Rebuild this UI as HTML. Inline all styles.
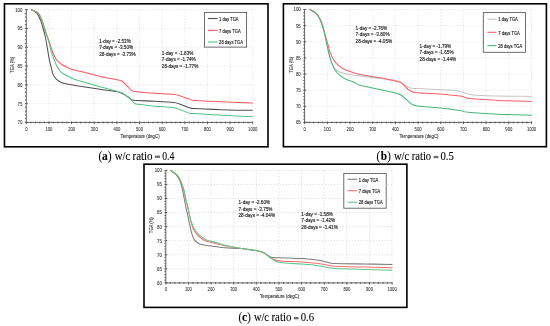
<!DOCTYPE html>
<html><head><meta charset="utf-8"><style>
html,body{margin:0;padding:0;background:#fff;}
body{width:550px;height:326px;overflow:hidden;font-family:"Liberation Sans", sans-serif;}
svg{display:block;will-change:transform;}
</style></head><body>
<svg width="550" height="326" viewBox="0 0 550 326" font-family='"Liberation Sans", sans-serif'>
<rect width="550" height="326" fill="#fff"/>
<path d="M26.30,103.60 H252.70 M26.30,84.80 H252.70 M26.30,66.00 H252.70 M26.30,47.20 H252.70 M26.30,28.40 H252.70 M26.30,9.60 H252.70 M48.94,9.60 V122.40 M71.58,9.60 V122.40 M94.22,9.60 V122.40 M116.86,9.60 V122.40 M139.50,9.60 V122.40 M162.14,9.60 V122.40 M184.78,9.60 V122.40 M207.42,9.60 V122.40 M230.06,9.60 V122.40 M252.70,9.60 V122.40" stroke="#d9d9d9" stroke-width="0.75" stroke-dasharray="1.1,1.9" fill="none"/>
<path d="M26.30,9.60 V122.40 M26.30,122.40 H252.70 M24.90,122.40 H27.90 M24.90,118.64 H26.30 M24.90,114.88 H26.30 M24.90,111.12 H26.30 M24.90,107.36 H26.30 M24.90,103.60 H27.90 M24.90,99.84 H26.30 M24.90,96.08 H26.30 M24.90,92.32 H26.30 M24.90,88.56 H26.30 M24.90,84.80 H27.90 M24.90,81.04 H26.30 M24.90,77.28 H26.30 M24.90,73.52 H26.30 M24.90,69.76 H26.30 M24.90,66.00 H27.90 M24.90,62.24 H26.30 M24.90,58.48 H26.30 M24.90,54.72 H26.30 M24.90,50.96 H26.30 M24.90,47.20 H27.90 M24.90,43.44 H26.30 M24.90,39.68 H26.30 M24.90,35.92 H26.30 M24.90,32.16 H26.30 M24.90,28.40 H27.90 M24.90,24.64 H26.30 M24.90,20.88 H26.30 M24.90,17.12 H26.30 M24.90,13.36 H26.30 M24.90,9.60 H27.90 M26.30,121.50 V124.20 M30.83,121.70 V123.40 M35.36,121.70 V123.40 M39.88,121.70 V123.40 M44.41,121.70 V123.40 M48.94,121.50 V124.20 M53.47,121.70 V123.40 M58.00,121.70 V123.40 M62.52,121.70 V123.40 M67.05,121.70 V123.40 M71.58,121.50 V124.20 M76.11,121.70 V123.40 M80.64,121.70 V123.40 M85.16,121.70 V123.40 M89.69,121.70 V123.40 M94.22,121.50 V124.20 M98.75,121.70 V123.40 M103.28,121.70 V123.40 M107.80,121.70 V123.40 M112.33,121.70 V123.40 M116.86,121.50 V124.20 M121.39,121.70 V123.40 M125.92,121.70 V123.40 M130.44,121.70 V123.40 M134.97,121.70 V123.40 M139.50,121.50 V124.20 M144.03,121.70 V123.40 M148.56,121.70 V123.40 M153.08,121.70 V123.40 M157.61,121.70 V123.40 M162.14,121.50 V124.20 M166.67,121.70 V123.40 M171.20,121.70 V123.40 M175.72,121.70 V123.40 M180.25,121.70 V123.40 M184.78,121.50 V124.20 M189.31,121.70 V123.40 M193.84,121.70 V123.40 M198.36,121.70 V123.40 M202.89,121.70 V123.40 M207.42,121.50 V124.20 M211.95,121.70 V123.40 M216.48,121.70 V123.40 M221.00,121.70 V123.40 M225.53,121.70 V123.40 M230.06,121.50 V124.20 M234.59,121.70 V123.40 M239.12,121.70 V123.40 M243.64,121.70 V123.40 M248.17,121.70 V123.40 M252.70,121.50 V124.20" stroke="#4a4a4a" stroke-width="0.85" fill="none"/>
<text transform="translate(22.50,124.30) scale(0.850,1)" font-size="5.20" text-anchor="end" fill="#333" stroke="#333" stroke-width="0.08">70</text>
<text transform="translate(22.50,105.50) scale(0.850,1)" font-size="5.20" text-anchor="end" fill="#333" stroke="#333" stroke-width="0.08">75</text>
<text transform="translate(22.50,86.70) scale(0.850,1)" font-size="5.20" text-anchor="end" fill="#333" stroke="#333" stroke-width="0.08">80</text>
<text transform="translate(22.50,67.90) scale(0.850,1)" font-size="5.20" text-anchor="end" fill="#333" stroke="#333" stroke-width="0.08">85</text>
<text transform="translate(22.50,49.10) scale(0.850,1)" font-size="5.20" text-anchor="end" fill="#333" stroke="#333" stroke-width="0.08">90</text>
<text transform="translate(22.50,30.30) scale(0.850,1)" font-size="5.20" text-anchor="end" fill="#333" stroke="#333" stroke-width="0.08">95</text>
<text transform="translate(22.50,11.50) scale(0.850,1)" font-size="5.20" text-anchor="end" fill="#333" stroke="#333" stroke-width="0.08">100</text>
<text transform="translate(26.30,130.70) scale(0.800,1)" font-size="5.20" text-anchor="middle" fill="#333" stroke="#333" stroke-width="0.08">0</text>
<text transform="translate(48.94,130.70) scale(0.800,1)" font-size="5.20" text-anchor="middle" fill="#333" stroke="#333" stroke-width="0.08">100</text>
<text transform="translate(71.58,130.70) scale(0.800,1)" font-size="5.20" text-anchor="middle" fill="#333" stroke="#333" stroke-width="0.08">200</text>
<text transform="translate(94.22,130.70) scale(0.800,1)" font-size="5.20" text-anchor="middle" fill="#333" stroke="#333" stroke-width="0.08">300</text>
<text transform="translate(116.86,130.70) scale(0.800,1)" font-size="5.20" text-anchor="middle" fill="#333" stroke="#333" stroke-width="0.08">400</text>
<text transform="translate(139.50,130.70) scale(0.800,1)" font-size="5.20" text-anchor="middle" fill="#333" stroke="#333" stroke-width="0.08">500</text>
<text transform="translate(162.14,130.70) scale(0.800,1)" font-size="5.20" text-anchor="middle" fill="#333" stroke="#333" stroke-width="0.08">600</text>
<text transform="translate(184.78,130.70) scale(0.800,1)" font-size="5.20" text-anchor="middle" fill="#333" stroke="#333" stroke-width="0.08">700</text>
<text transform="translate(207.42,130.70) scale(0.800,1)" font-size="5.20" text-anchor="middle" fill="#333" stroke="#333" stroke-width="0.08">800</text>
<text transform="translate(230.06,130.70) scale(0.800,1)" font-size="5.20" text-anchor="middle" fill="#333" stroke="#333" stroke-width="0.08">900</text>
<text transform="translate(252.70,130.70) scale(0.800,1)" font-size="5.20" text-anchor="middle" fill="#333" stroke="#333" stroke-width="0.08">1000</text>
<text transform="translate(13.85,64.80) rotate(-90) scale(0.800,1)" font-size="5.2" text-anchor="middle" fill="#333" stroke="#333" stroke-width="0.08">TGA (%)</text>
<text transform="translate(140.05,137.60) scale(0.845,1)" font-size="5.20" text-anchor="middle" fill="#333" stroke="#333" stroke-width="0.10">Temperature (degC)</text>
<path d="M31.50,9.80 C32.42,10.38 35.47,11.50 37.00,13.30 C38.53,15.10 39.70,18.15 40.70,20.60 C41.70,23.05 42.30,25.60 43.00,28.00 C43.70,30.40 44.35,32.67 44.90,35.00 C45.45,37.33 45.78,39.17 46.30,42.00 C46.82,44.83 47.48,49.00 48.00,52.00 C48.52,55.00 48.85,57.38 49.40,60.00 C49.95,62.62 50.67,65.27 51.30,67.70 C51.93,70.13 52.37,72.68 53.20,74.60 C54.03,76.52 55.02,77.93 56.30,79.20 C57.58,80.47 59.45,81.47 60.90,82.20 C62.35,82.93 63.48,83.20 65.00,83.60 C66.52,84.00 66.67,84.03 70.00,84.60 C73.33,85.17 80.00,86.22 85.00,87.00 C90.00,87.78 94.73,88.53 100.00,89.30 C105.27,90.07 112.92,90.90 116.60,91.60 C120.28,92.30 120.70,92.95 122.10,93.50 C123.50,94.05 123.90,94.23 125.00,94.90 C126.10,95.57 127.47,96.63 128.70,97.50 C129.93,98.37 130.72,99.58 132.40,100.10 C134.08,100.62 135.03,100.40 138.80,100.60 C142.57,100.80 149.23,100.98 155.00,101.30 C160.77,101.62 169.32,102.05 173.40,102.50 C177.48,102.95 176.63,103.07 179.50,104.00 C182.37,104.93 188.02,107.33 190.60,108.10 C193.18,108.87 188.82,108.28 195.00,108.60 C201.18,108.92 218.15,109.73 227.70,110.00 C237.25,110.27 248.20,110.17 252.30,110.20" stroke="#505050" stroke-width="1.05" fill="none" stroke-linejoin="round" stroke-linecap="round"/>
<path d="M31.50,9.80 C32.65,10.38 36.63,11.50 38.40,13.30 C40.17,15.10 41.10,18.15 42.10,20.60 C43.10,23.05 43.63,25.60 44.40,28.00 C45.17,30.40 45.88,32.67 46.70,35.00 C47.52,37.33 48.32,39.17 49.30,42.00 C50.28,44.83 51.52,49.20 52.60,52.00 C53.68,54.80 54.98,57.33 55.80,58.80 C56.62,60.27 56.53,59.90 57.50,60.80 C58.47,61.70 60.00,63.10 61.60,64.20 C63.20,65.30 64.87,66.40 67.10,67.40 C69.33,68.40 72.02,69.33 75.00,70.20 C77.98,71.07 80.83,71.57 85.00,72.60 C89.17,73.63 94.43,75.18 100.00,76.40 C105.57,77.62 114.72,79.08 118.40,79.90 C122.08,80.72 120.95,80.58 122.10,81.30 C123.25,82.02 124.20,83.15 125.30,84.20 C126.40,85.25 127.52,86.47 128.70,87.60 C129.88,88.73 130.72,90.27 132.40,91.00 C134.08,91.73 135.03,91.62 138.80,92.00 C142.57,92.38 149.23,92.93 155.00,93.30 C160.77,93.67 169.32,93.78 173.40,94.20 C177.48,94.62 176.83,94.98 179.50,95.80 C182.17,96.62 186.82,98.32 189.40,99.10 C191.98,99.88 188.62,100.02 195.00,100.50 C201.38,100.98 218.15,101.60 227.70,102.00 C237.25,102.40 248.20,102.75 252.30,102.90" stroke="#ff5a5f" stroke-width="1.05" fill="none" stroke-linejoin="round" stroke-linecap="round"/>
<path d="M31.50,9.80 C32.65,10.38 36.63,11.50 38.40,13.30 C40.17,15.10 41.10,18.15 42.10,20.60 C43.10,23.05 43.63,25.60 44.40,28.00 C45.17,30.40 45.95,32.67 46.70,35.00 C47.45,37.33 48.12,39.17 48.90,42.00 C49.68,44.83 50.75,49.67 51.40,52.00 C52.05,54.33 52.32,54.67 52.80,56.00 C53.28,57.33 53.60,58.25 54.30,60.00 C55.00,61.75 55.78,64.40 57.00,66.50 C58.22,68.60 59.62,70.92 61.60,72.60 C63.58,74.28 66.67,75.47 68.90,76.60 C71.13,77.73 72.52,78.48 75.00,79.40 C77.48,80.32 79.63,80.87 83.80,82.10 C87.97,83.33 94.53,85.28 100.00,86.80 C105.47,88.32 112.92,90.17 116.60,91.20 C120.28,92.23 120.42,92.17 122.10,93.00 C123.78,93.83 125.30,95.27 126.70,96.20 C128.10,97.13 129.10,97.35 130.50,98.60 C131.90,99.85 132.95,102.67 135.10,103.70 C137.25,104.73 140.08,104.38 143.40,104.80 C146.72,105.22 150.00,105.75 155.00,106.20 C160.00,106.65 169.32,106.95 173.40,107.50 C177.48,108.05 176.83,108.55 179.50,109.50 C182.17,110.45 186.82,112.52 189.40,113.20 C191.98,113.88 188.62,113.20 195.00,113.60 C201.38,114.00 218.15,115.08 227.70,115.60 C237.25,116.12 248.20,116.52 252.30,116.70" stroke="#56c287" stroke-width="1.05" fill="none" stroke-linejoin="round" stroke-linecap="round"/>
<rect x="204.50" y="12.40" width="42.10" height="34.70" fill="#fff" stroke="#555" stroke-width="0.85"/>
<path d="M208.00,18.50 H217.60" stroke="#505050" stroke-width="1.1"/>
<text transform="translate(219.10,20.70) scale(0.790,1)" font-size="5.20" text-anchor="start" fill="#1a1a1a" stroke="#1a1a1a" stroke-width="0.14">1 day TGA</text>
<path d="M208.00,30.30 H217.60" stroke="#ff5a5f" stroke-width="1.1"/>
<text transform="translate(219.10,32.50) scale(0.790,1)" font-size="5.20" text-anchor="start" fill="#1a1a1a" stroke="#1a1a1a" stroke-width="0.14">7 days TGA</text>
<path d="M208.00,42.00 H217.60" stroke="#56c287" stroke-width="1.1"/>
<text transform="translate(219.10,44.20) scale(0.790,1)" font-size="5.20" text-anchor="start" fill="#1a1a1a" stroke="#1a1a1a" stroke-width="0.14">28 days TGA</text>
<text transform="translate(99.20,43.00) scale(0.895,1)" font-size="5.20" text-anchor="start" fill="#1a1a1a" stroke="#1a1a1a" stroke-width="0.14">1-day = -2.53%</text>
<text transform="translate(99.20,49.40) scale(0.895,1)" font-size="5.20" text-anchor="start" fill="#1a1a1a" stroke="#1a1a1a" stroke-width="0.14">7-days = -3.50%</text>
<text transform="translate(99.20,56.00) scale(0.895,1)" font-size="5.20" text-anchor="start" fill="#1a1a1a" stroke="#1a1a1a" stroke-width="0.14">28-days = -3.73%</text>
<text transform="translate(161.80,54.60) scale(0.895,1)" font-size="5.20" text-anchor="start" fill="#1a1a1a" stroke="#1a1a1a" stroke-width="0.14">1-day = -1.83%</text>
<text transform="translate(161.80,61.40) scale(0.895,1)" font-size="5.20" text-anchor="start" fill="#1a1a1a" stroke="#1a1a1a" stroke-width="0.14">7-days = -1.74%</text>
<text transform="translate(161.80,68.00) scale(0.895,1)" font-size="5.20" text-anchor="start" fill="#1a1a1a" stroke="#1a1a1a" stroke-width="0.14">28-days = -1.77%</text>
<rect x="4.45" y="3.80" width="263.55" height="143.00" fill="none" stroke="#000" stroke-width="1.6"/>
<path d="M304.60,106.27 H531.50 M304.60,90.14 H531.50 M304.60,74.01 H531.50 M304.60,57.89 H531.50 M304.60,41.76 H531.50 M304.60,25.63 H531.50 M304.60,9.50 H531.50 M327.29,9.50 V122.40 M349.98,9.50 V122.40 M372.67,9.50 V122.40 M395.36,9.50 V122.40 M418.05,9.50 V122.40 M440.74,9.50 V122.40 M463.43,9.50 V122.40 M486.12,9.50 V122.40 M508.81,9.50 V122.40 M531.50,9.50 V122.40" stroke="#d9d9d9" stroke-width="0.75" stroke-dasharray="1.1,1.9" fill="none"/>
<path d="M304.60,9.50 V122.40 M304.60,122.40 H531.50 M303.20,122.40 H306.20 M303.20,119.17 H304.60 M303.20,115.95 H304.60 M303.20,112.72 H304.60 M303.20,109.50 H304.60 M303.20,106.27 H306.20 M303.20,103.05 H304.60 M303.20,99.82 H304.60 M303.20,96.59 H304.60 M303.20,93.37 H304.60 M303.20,90.14 H306.20 M303.20,86.92 H304.60 M303.20,83.69 H304.60 M303.20,80.47 H304.60 M303.20,77.24 H304.60 M303.20,74.01 H306.20 M303.20,70.79 H304.60 M303.20,67.56 H304.60 M303.20,64.34 H304.60 M303.20,61.11 H304.60 M303.20,57.89 H306.20 M303.20,54.66 H304.60 M303.20,51.43 H304.60 M303.20,48.21 H304.60 M303.20,44.98 H304.60 M303.20,41.76 H306.20 M303.20,38.53 H304.60 M303.20,35.31 H304.60 M303.20,32.08 H304.60 M303.20,28.85 H304.60 M303.20,25.63 H306.20 M303.20,22.40 H304.60 M303.20,19.18 H304.60 M303.20,15.95 H304.60 M303.20,12.73 H304.60 M303.20,9.50 H306.20 M304.60,121.50 V124.20 M309.14,121.70 V123.40 M313.68,121.70 V123.40 M318.21,121.70 V123.40 M322.75,121.70 V123.40 M327.29,121.50 V124.20 M331.83,121.70 V123.40 M336.37,121.70 V123.40 M340.90,121.70 V123.40 M345.44,121.70 V123.40 M349.98,121.50 V124.20 M354.52,121.70 V123.40 M359.06,121.70 V123.40 M363.59,121.70 V123.40 M368.13,121.70 V123.40 M372.67,121.50 V124.20 M377.21,121.70 V123.40 M381.75,121.70 V123.40 M386.28,121.70 V123.40 M390.82,121.70 V123.40 M395.36,121.50 V124.20 M399.90,121.70 V123.40 M404.44,121.70 V123.40 M408.97,121.70 V123.40 M413.51,121.70 V123.40 M418.05,121.50 V124.20 M422.59,121.70 V123.40 M427.13,121.70 V123.40 M431.66,121.70 V123.40 M436.20,121.70 V123.40 M440.74,121.50 V124.20 M445.28,121.70 V123.40 M449.82,121.70 V123.40 M454.35,121.70 V123.40 M458.89,121.70 V123.40 M463.43,121.50 V124.20 M467.97,121.70 V123.40 M472.51,121.70 V123.40 M477.04,121.70 V123.40 M481.58,121.70 V123.40 M486.12,121.50 V124.20 M490.66,121.70 V123.40 M495.20,121.70 V123.40 M499.73,121.70 V123.40 M504.27,121.70 V123.40 M508.81,121.50 V124.20 M513.35,121.70 V123.40 M517.89,121.70 V123.40 M522.42,121.70 V123.40 M526.96,121.70 V123.40 M531.50,121.50 V124.20" stroke="#4a4a4a" stroke-width="0.85" fill="none"/>
<text transform="translate(300.80,124.30) scale(0.850,1)" font-size="5.20" text-anchor="end" fill="#333" stroke="#333" stroke-width="0.08">65</text>
<text transform="translate(300.80,108.17) scale(0.850,1)" font-size="5.20" text-anchor="end" fill="#333" stroke="#333" stroke-width="0.08">70</text>
<text transform="translate(300.80,92.04) scale(0.850,1)" font-size="5.20" text-anchor="end" fill="#333" stroke="#333" stroke-width="0.08">75</text>
<text transform="translate(300.80,75.91) scale(0.850,1)" font-size="5.20" text-anchor="end" fill="#333" stroke="#333" stroke-width="0.08">80</text>
<text transform="translate(300.80,59.79) scale(0.850,1)" font-size="5.20" text-anchor="end" fill="#333" stroke="#333" stroke-width="0.08">85</text>
<text transform="translate(300.80,43.66) scale(0.850,1)" font-size="5.20" text-anchor="end" fill="#333" stroke="#333" stroke-width="0.08">90</text>
<text transform="translate(300.80,27.53) scale(0.850,1)" font-size="5.20" text-anchor="end" fill="#333" stroke="#333" stroke-width="0.08">95</text>
<text transform="translate(300.80,11.40) scale(0.850,1)" font-size="5.20" text-anchor="end" fill="#333" stroke="#333" stroke-width="0.08">100</text>
<text transform="translate(304.60,130.70) scale(0.800,1)" font-size="5.20" text-anchor="middle" fill="#333" stroke="#333" stroke-width="0.08">0</text>
<text transform="translate(327.29,130.70) scale(0.800,1)" font-size="5.20" text-anchor="middle" fill="#333" stroke="#333" stroke-width="0.08">100</text>
<text transform="translate(349.98,130.70) scale(0.800,1)" font-size="5.20" text-anchor="middle" fill="#333" stroke="#333" stroke-width="0.08">200</text>
<text transform="translate(372.67,130.70) scale(0.800,1)" font-size="5.20" text-anchor="middle" fill="#333" stroke="#333" stroke-width="0.08">300</text>
<text transform="translate(395.36,130.70) scale(0.800,1)" font-size="5.20" text-anchor="middle" fill="#333" stroke="#333" stroke-width="0.08">400</text>
<text transform="translate(418.05,130.70) scale(0.800,1)" font-size="5.20" text-anchor="middle" fill="#333" stroke="#333" stroke-width="0.08">500</text>
<text transform="translate(440.74,130.70) scale(0.800,1)" font-size="5.20" text-anchor="middle" fill="#333" stroke="#333" stroke-width="0.08">600</text>
<text transform="translate(463.43,130.70) scale(0.800,1)" font-size="5.20" text-anchor="middle" fill="#333" stroke="#333" stroke-width="0.08">700</text>
<text transform="translate(486.12,130.70) scale(0.800,1)" font-size="5.20" text-anchor="middle" fill="#333" stroke="#333" stroke-width="0.08">800</text>
<text transform="translate(508.81,130.70) scale(0.800,1)" font-size="5.20" text-anchor="middle" fill="#333" stroke="#333" stroke-width="0.08">900</text>
<text transform="translate(531.50,130.70) scale(0.800,1)" font-size="5.20" text-anchor="middle" fill="#333" stroke="#333" stroke-width="0.08">1000</text>
<text transform="translate(292.80,64.80) rotate(-90) scale(0.800,1)" font-size="5.2" text-anchor="middle" fill="#333" stroke="#333" stroke-width="0.08">TGA (%)</text>
<text transform="translate(419.00,137.60) scale(0.845,1)" font-size="5.20" text-anchor="middle" fill="#333" stroke="#333" stroke-width="0.10">Temperature (degC)</text>
<path d="M310.00,9.60 C311.00,10.22 314.38,11.77 316.00,13.30 C317.62,14.83 318.62,16.65 319.70,18.80 C320.78,20.95 321.65,23.60 322.50,26.20 C323.35,28.80 324.05,31.27 324.80,34.40 C325.55,37.53 326.25,41.57 327.00,45.00 C327.75,48.43 328.53,52.07 329.30,55.00 C330.07,57.93 330.85,60.57 331.60,62.60 C332.35,64.63 332.87,65.85 333.80,67.20 C334.73,68.55 335.62,69.68 337.20,70.70 C338.78,71.72 340.67,72.60 343.30,73.30 C345.93,74.00 350.22,74.45 353.00,74.90 C355.78,75.35 355.50,75.38 360.00,76.00 C364.50,76.62 374.07,77.83 380.00,78.60 C385.93,79.37 391.98,79.93 395.60,80.60 C399.22,81.27 400.05,81.77 401.70,82.60 C403.35,83.43 404.28,84.80 405.50,85.60 C406.72,86.40 407.83,86.97 409.00,87.40 C410.17,87.83 410.93,88.00 412.50,88.20 C414.07,88.40 413.73,88.35 418.40,88.60 C423.07,88.85 434.40,89.38 440.50,89.70 C446.60,90.02 451.13,90.05 455.00,90.50 C458.87,90.95 460.78,91.65 463.70,92.40 C466.62,93.15 466.68,94.40 472.50,95.00 C478.32,95.60 488.78,95.77 498.60,96.00 C508.42,96.23 525.93,96.33 531.40,96.40" stroke="#c6c6c6" stroke-width="1.05" fill="none" stroke-linejoin="round" stroke-linecap="round"/>
<path d="M310.00,9.60 C311.05,10.22 314.63,11.77 316.30,13.30 C317.97,14.83 318.90,16.65 320.00,18.80 C321.10,20.95 321.98,23.25 322.90,26.20 C323.82,29.15 324.63,33.37 325.50,36.50 C326.37,39.63 327.48,42.75 328.10,45.00 C328.72,47.25 328.68,48.33 329.20,50.00 C329.72,51.67 330.23,53.02 331.20,55.00 C332.17,56.98 333.47,59.87 335.00,61.90 C336.53,63.93 338.50,65.80 340.40,67.20 C342.30,68.60 344.30,69.40 346.40,70.30 C348.50,71.20 350.73,71.90 353.00,72.60 C355.27,73.30 355.50,73.63 360.00,74.50 C364.50,75.37 374.07,76.73 380.00,77.80 C385.93,78.87 392.18,80.12 395.60,80.90 C399.02,81.68 399.10,81.78 400.50,82.50 C401.90,83.22 402.75,84.07 404.00,85.20 C405.25,86.33 406.75,88.27 408.00,89.30 C409.25,90.33 410.33,90.88 411.50,91.40 C412.67,91.92 413.58,92.15 415.00,92.40 C416.42,92.65 415.75,92.63 420.00,92.90 C424.25,93.17 433.83,93.47 440.50,94.00 C447.17,94.53 456.13,95.65 460.00,96.10 C463.87,96.55 462.12,96.28 463.70,96.70 C465.28,97.12 463.68,97.98 469.50,98.60 C475.32,99.22 488.28,99.93 498.60,100.40 C508.92,100.87 525.93,101.23 531.40,101.40" stroke="#ff6068" stroke-width="1.05" fill="none" stroke-linejoin="round" stroke-linecap="round"/>
<path d="M310.00,9.60 C311.00,10.22 314.38,11.77 316.00,13.30 C317.62,14.83 318.62,16.65 319.70,18.80 C320.78,20.95 321.65,23.60 322.50,26.20 C323.35,28.80 324.05,31.27 324.80,34.40 C325.55,37.53 326.25,41.57 327.00,45.00 C327.75,48.43 328.53,52.07 329.30,55.00 C330.07,57.93 330.53,59.93 331.60,62.60 C332.67,65.27 334.25,68.83 335.70,71.00 C337.15,73.17 338.52,74.18 340.30,75.60 C342.08,77.02 344.28,78.47 346.40,79.50 C348.52,80.53 350.73,80.85 353.00,81.80 C355.27,82.75 355.50,83.92 360.00,85.20 C364.50,86.48 374.07,88.18 380.00,89.50 C385.93,90.82 392.18,92.22 395.60,93.10 C399.02,93.98 398.93,93.93 400.50,94.80 C402.07,95.67 403.42,96.97 405.00,98.30 C406.58,99.63 408.58,101.68 410.00,102.80 C411.42,103.92 412.33,104.47 413.50,105.00 C414.67,105.53 415.58,105.73 417.00,106.00 C418.42,106.27 418.08,106.28 422.00,106.60 C425.92,106.92 434.17,107.23 440.50,107.90 C446.83,108.57 455.40,109.87 460.00,110.60 C464.60,111.33 461.67,111.70 468.10,112.30 C474.53,112.90 488.05,113.72 498.60,114.20 C509.15,114.68 525.93,115.03 531.40,115.20" stroke="#48b878" stroke-width="1.05" fill="none" stroke-linejoin="round" stroke-linecap="round"/>
<rect x="483.30" y="12.60" width="42.20" height="39.70" fill="#fff" stroke="#555" stroke-width="0.85"/>
<path d="M487.40,19.20 H496.40" stroke="#c6c6c6" stroke-width="1.1"/>
<text transform="translate(498.30,21.40) scale(0.790,1)" font-size="5.20" text-anchor="start" fill="#1a1a1a" stroke="#1a1a1a" stroke-width="0.14">1 day TGA</text>
<path d="M487.40,32.30 H496.40" stroke="#ff6068" stroke-width="1.1"/>
<text transform="translate(498.30,34.50) scale(0.790,1)" font-size="5.20" text-anchor="start" fill="#1a1a1a" stroke="#1a1a1a" stroke-width="0.14">7 days TGA</text>
<path d="M487.40,45.70 H496.40" stroke="#48b878" stroke-width="1.1"/>
<text transform="translate(498.30,47.90) scale(0.790,1)" font-size="5.20" text-anchor="start" fill="#1a1a1a" stroke="#1a1a1a" stroke-width="0.14">28 days TGA</text>
<text transform="translate(355.60,29.80) scale(0.895,1)" font-size="5.20" text-anchor="start" fill="#1a1a1a" stroke="#1a1a1a" stroke-width="0.14">1-day = -2.76%</text>
<text transform="translate(355.60,35.90) scale(0.895,1)" font-size="5.20" text-anchor="start" fill="#1a1a1a" stroke="#1a1a1a" stroke-width="0.14">7-days = -3.80%</text>
<text transform="translate(355.60,42.50) scale(0.895,1)" font-size="5.20" text-anchor="start" fill="#1a1a1a" stroke="#1a1a1a" stroke-width="0.14">28-days = -4.05%</text>
<text transform="translate(419.60,48.20) scale(0.895,1)" font-size="5.20" text-anchor="start" fill="#1a1a1a" stroke="#1a1a1a" stroke-width="0.14">1-day = -1.79%</text>
<text transform="translate(419.60,54.40) scale(0.895,1)" font-size="5.20" text-anchor="start" fill="#1a1a1a" stroke="#1a1a1a" stroke-width="0.14">7-days = -1.65%</text>
<text transform="translate(419.60,60.80) scale(0.895,1)" font-size="5.20" text-anchor="start" fill="#1a1a1a" stroke="#1a1a1a" stroke-width="0.14">28-days = -1.44%</text>
<rect x="283.40" y="3.80" width="263.00" height="142.90" fill="none" stroke="#000" stroke-width="1.6"/>
<path d="M165.80,268.84 H392.10 M165.80,254.77 H392.10 M165.80,240.71 H392.10 M165.80,226.65 H392.10 M165.80,212.59 H392.10 M165.80,198.53 H392.10 M165.80,184.46 H392.10 M165.80,170.40 H392.10 M188.43,170.40 V282.90 M211.06,170.40 V282.90 M233.69,170.40 V282.90 M256.32,170.40 V282.90 M278.95,170.40 V282.90 M301.58,170.40 V282.90 M324.21,170.40 V282.90 M346.84,170.40 V282.90 M369.47,170.40 V282.90 M392.10,170.40 V282.90" stroke="#d0d0d0" stroke-width="0.75" stroke-dasharray="1.1,1.9" fill="none"/>
<path d="M165.80,170.40 V282.90 M165.80,282.90 H392.10 M164.40,282.90 H167.40 M164.40,280.09 H165.80 M164.40,277.27 H165.80 M164.40,274.46 H165.80 M164.40,271.65 H165.80 M164.40,268.84 H167.40 M164.40,266.02 H165.80 M164.40,263.21 H165.80 M164.40,260.40 H165.80 M164.40,257.59 H165.80 M164.40,254.77 H167.40 M164.40,251.96 H165.80 M164.40,249.15 H165.80 M164.40,246.34 H165.80 M164.40,243.52 H165.80 M164.40,240.71 H167.40 M164.40,237.90 H165.80 M164.40,235.09 H165.80 M164.40,232.27 H165.80 M164.40,229.46 H165.80 M164.40,226.65 H167.40 M164.40,223.84 H165.80 M164.40,221.02 H165.80 M164.40,218.21 H165.80 M164.40,215.40 H165.80 M164.40,212.59 H167.40 M164.40,209.77 H165.80 M164.40,206.96 H165.80 M164.40,204.15 H165.80 M164.40,201.34 H165.80 M164.40,198.53 H167.40 M164.40,195.71 H165.80 M164.40,192.90 H165.80 M164.40,190.09 H165.80 M164.40,187.28 H165.80 M164.40,184.46 H167.40 M164.40,181.65 H165.80 M164.40,178.84 H165.80 M164.40,176.03 H165.80 M164.40,173.21 H165.80 M164.40,170.40 H167.40 M165.80,282.00 V284.70 M170.33,282.20 V283.90 M174.85,282.20 V283.90 M179.38,282.20 V283.90 M183.90,282.20 V283.90 M188.43,282.00 V284.70 M192.96,282.20 V283.90 M197.48,282.20 V283.90 M202.01,282.20 V283.90 M206.53,282.20 V283.90 M211.06,282.00 V284.70 M215.59,282.20 V283.90 M220.11,282.20 V283.90 M224.64,282.20 V283.90 M229.16,282.20 V283.90 M233.69,282.00 V284.70 M238.22,282.20 V283.90 M242.74,282.20 V283.90 M247.27,282.20 V283.90 M251.79,282.20 V283.90 M256.32,282.00 V284.70 M260.85,282.20 V283.90 M265.37,282.20 V283.90 M269.90,282.20 V283.90 M274.42,282.20 V283.90 M278.95,282.00 V284.70 M283.48,282.20 V283.90 M288.00,282.20 V283.90 M292.53,282.20 V283.90 M297.05,282.20 V283.90 M301.58,282.00 V284.70 M306.11,282.20 V283.90 M310.63,282.20 V283.90 M315.16,282.20 V283.90 M319.68,282.20 V283.90 M324.21,282.00 V284.70 M328.74,282.20 V283.90 M333.26,282.20 V283.90 M337.79,282.20 V283.90 M342.31,282.20 V283.90 M346.84,282.00 V284.70 M351.37,282.20 V283.90 M355.89,282.20 V283.90 M360.42,282.20 V283.90 M364.94,282.20 V283.90 M369.47,282.00 V284.70 M374.00,282.20 V283.90 M378.52,282.20 V283.90 M383.05,282.20 V283.90 M387.57,282.20 V283.90 M392.10,282.00 V284.70" stroke="#4a4a4a" stroke-width="0.85" fill="none"/>
<text transform="translate(162.00,284.80) scale(0.850,1)" font-size="5.20" text-anchor="end" fill="#333" stroke="#333" stroke-width="0.08">60</text>
<text transform="translate(162.00,270.74) scale(0.850,1)" font-size="5.20" text-anchor="end" fill="#333" stroke="#333" stroke-width="0.08">65</text>
<text transform="translate(162.00,256.67) scale(0.850,1)" font-size="5.20" text-anchor="end" fill="#333" stroke="#333" stroke-width="0.08">70</text>
<text transform="translate(162.00,242.61) scale(0.850,1)" font-size="5.20" text-anchor="end" fill="#333" stroke="#333" stroke-width="0.08">75</text>
<text transform="translate(162.00,228.55) scale(0.850,1)" font-size="5.20" text-anchor="end" fill="#333" stroke="#333" stroke-width="0.08">80</text>
<text transform="translate(162.00,214.49) scale(0.850,1)" font-size="5.20" text-anchor="end" fill="#333" stroke="#333" stroke-width="0.08">85</text>
<text transform="translate(162.00,200.43) scale(0.850,1)" font-size="5.20" text-anchor="end" fill="#333" stroke="#333" stroke-width="0.08">90</text>
<text transform="translate(162.00,186.36) scale(0.850,1)" font-size="5.20" text-anchor="end" fill="#333" stroke="#333" stroke-width="0.08">95</text>
<text transform="translate(162.00,172.30) scale(0.850,1)" font-size="5.20" text-anchor="end" fill="#333" stroke="#333" stroke-width="0.08">100</text>
<text transform="translate(165.80,291.20) scale(0.800,1)" font-size="5.20" text-anchor="middle" fill="#333" stroke="#333" stroke-width="0.08">0</text>
<text transform="translate(188.43,291.20) scale(0.800,1)" font-size="5.20" text-anchor="middle" fill="#333" stroke="#333" stroke-width="0.08">100</text>
<text transform="translate(211.06,291.20) scale(0.800,1)" font-size="5.20" text-anchor="middle" fill="#333" stroke="#333" stroke-width="0.08">200</text>
<text transform="translate(233.69,291.20) scale(0.800,1)" font-size="5.20" text-anchor="middle" fill="#333" stroke="#333" stroke-width="0.08">300</text>
<text transform="translate(256.32,291.20) scale(0.800,1)" font-size="5.20" text-anchor="middle" fill="#333" stroke="#333" stroke-width="0.08">400</text>
<text transform="translate(278.95,291.20) scale(0.800,1)" font-size="5.20" text-anchor="middle" fill="#333" stroke="#333" stroke-width="0.08">500</text>
<text transform="translate(301.58,291.20) scale(0.800,1)" font-size="5.20" text-anchor="middle" fill="#333" stroke="#333" stroke-width="0.08">600</text>
<text transform="translate(324.21,291.20) scale(0.800,1)" font-size="5.20" text-anchor="middle" fill="#333" stroke="#333" stroke-width="0.08">700</text>
<text transform="translate(346.84,291.20) scale(0.800,1)" font-size="5.20" text-anchor="middle" fill="#333" stroke="#333" stroke-width="0.08">800</text>
<text transform="translate(369.47,291.20) scale(0.800,1)" font-size="5.20" text-anchor="middle" fill="#333" stroke="#333" stroke-width="0.08">900</text>
<text transform="translate(392.10,291.20) scale(0.800,1)" font-size="5.20" text-anchor="middle" fill="#333" stroke="#333" stroke-width="0.08">1000</text>
<text transform="translate(153.40,225.20) rotate(-90) scale(0.800,1)" font-size="5.2" text-anchor="middle" fill="#333" stroke="#333" stroke-width="0.08">TGA (%)</text>
<text transform="translate(279.60,298.00) scale(0.845,1)" font-size="5.20" text-anchor="middle" fill="#333" stroke="#333" stroke-width="0.10">Temperature (degC)</text>
<path d="M170.60,170.40 C171.58,171.20 174.90,173.33 176.50,175.20 C178.10,177.07 179.20,179.13 180.20,181.60 C181.20,184.07 181.82,187.10 182.50,190.00 C183.18,192.90 183.70,195.93 184.30,199.00 C184.90,202.07 185.37,204.90 186.10,208.40 C186.83,211.90 187.87,216.23 188.70,220.00 C189.53,223.77 190.18,227.73 191.10,231.00 C192.02,234.27 192.77,237.45 194.20,239.60 C195.63,241.75 197.15,242.87 199.70,243.90 C202.25,244.93 205.28,245.15 209.50,245.80 C213.72,246.45 219.62,247.33 225.00,247.80 C230.38,248.27 235.92,248.00 241.80,248.60 C247.68,249.20 256.30,250.48 260.30,251.40 C264.30,252.32 263.97,253.13 265.80,254.10 C267.63,255.07 268.93,256.58 271.30,257.20 C273.67,257.82 274.83,257.57 280.00,257.80 C285.17,258.03 295.87,258.18 302.30,258.60 C308.73,259.02 314.43,259.70 318.60,260.30 C322.77,260.90 324.57,261.68 327.30,262.20 C330.03,262.72 328.63,263.10 335.00,263.40 C341.37,263.70 356.00,263.83 365.50,264.00 C375.00,264.17 387.58,264.33 392.00,264.40" stroke="#7c7c7c" stroke-width="1.05" fill="none" stroke-linejoin="round" stroke-linecap="round"/>
<path d="M170.60,170.40 C171.67,171.20 175.32,173.33 177.00,175.20 C178.68,177.07 179.58,179.13 180.70,181.60 C181.82,184.07 182.88,187.10 183.70,190.00 C184.52,192.90 184.88,195.93 185.60,199.00 C186.32,202.07 187.18,204.90 188.00,208.40 C188.82,211.90 189.57,216.43 190.50,220.00 C191.43,223.57 192.27,227.13 193.60,229.80 C194.93,232.47 196.45,234.12 198.50,236.00 C200.55,237.88 203.03,239.85 205.90,241.10 C208.77,242.35 212.52,242.72 215.70,243.50 C218.88,244.28 220.65,244.95 225.00,245.80 C229.35,246.65 235.92,247.67 241.80,248.60 C247.68,249.53 256.30,250.48 260.30,251.40 C264.30,252.32 263.97,252.93 265.80,254.10 C267.63,255.27 268.93,257.27 271.30,258.40 C273.67,259.53 274.83,260.32 280.00,260.90 C285.17,261.48 295.87,261.47 302.30,261.90 C308.73,262.33 314.43,262.95 318.60,263.50 C322.77,264.05 324.57,264.73 327.30,265.20 C330.03,265.67 328.63,265.98 335.00,266.30 C341.37,266.62 356.00,266.87 365.50,267.10 C375.00,267.33 387.58,267.60 392.00,267.70" stroke="#ff6d6d" stroke-width="1.05" fill="none" stroke-linejoin="round" stroke-linecap="round"/>
<path d="M170.60,170.40 C171.73,171.20 175.65,173.33 177.40,175.20 C179.15,177.07 180.02,179.13 181.10,181.60 C182.18,184.07 183.12,187.10 183.90,190.00 C184.68,192.90 185.08,195.93 185.80,199.00 C186.52,202.07 187.38,204.90 188.20,208.40 C189.02,211.90 189.60,216.43 190.70,220.00 C191.80,223.57 193.30,227.25 194.80,229.80 C196.30,232.35 197.65,233.57 199.70,235.30 C201.75,237.03 204.23,238.97 207.10,240.20 C209.97,241.43 213.92,241.87 216.90,242.70 C219.88,243.53 220.85,244.22 225.00,245.20 C229.15,246.18 235.92,247.57 241.80,248.60 C247.68,249.63 256.30,250.48 260.30,251.40 C264.30,252.32 263.97,252.90 265.80,254.10 C267.63,255.30 268.93,257.20 271.30,258.60 C273.67,260.00 274.83,261.58 280.00,262.50 C285.17,263.42 295.87,263.57 302.30,264.10 C308.73,264.63 314.43,265.15 318.60,265.70 C322.77,266.25 324.57,266.95 327.30,267.40 C330.03,267.85 328.63,268.05 335.00,268.40 C341.37,268.75 356.00,269.18 365.50,269.50 C375.00,269.82 387.58,270.17 392.00,270.30" stroke="#5ec98d" stroke-width="1.05" fill="none" stroke-linejoin="round" stroke-linecap="round"/>
<rect x="343.80" y="173.40" width="42.40" height="34.80" fill="#fff" stroke="#555" stroke-width="0.85"/>
<path d="M347.60,179.30 H357.20" stroke="#7c7c7c" stroke-width="1.1"/>
<text transform="translate(358.80,181.50) scale(0.790,1)" font-size="5.20" text-anchor="start" fill="#1a1a1a" stroke="#1a1a1a" stroke-width="0.14">1 day TGA</text>
<path d="M347.60,190.70 H357.20" stroke="#ff6d6d" stroke-width="1.1"/>
<text transform="translate(358.80,192.90) scale(0.790,1)" font-size="5.20" text-anchor="start" fill="#1a1a1a" stroke="#1a1a1a" stroke-width="0.14">7 days TGA</text>
<path d="M347.60,202.20 H357.20" stroke="#5ec98d" stroke-width="1.1"/>
<text transform="translate(358.80,204.40) scale(0.790,1)" font-size="5.20" text-anchor="start" fill="#1a1a1a" stroke="#1a1a1a" stroke-width="0.14">28 days TGA</text>
<text transform="translate(238.50,204.40) scale(0.895,1)" font-size="5.20" text-anchor="start" fill="#1a1a1a" stroke="#1a1a1a" stroke-width="0.14">1-day = -2.60%</text>
<text transform="translate(238.50,210.60) scale(0.895,1)" font-size="5.20" text-anchor="start" fill="#1a1a1a" stroke="#1a1a1a" stroke-width="0.14">7-days = -3.75%</text>
<text transform="translate(238.50,217.00) scale(0.895,1)" font-size="5.20" text-anchor="start" fill="#1a1a1a" stroke="#1a1a1a" stroke-width="0.14">28-days = -4.04%</text>
<text transform="translate(301.30,215.50) scale(0.895,1)" font-size="5.20" text-anchor="start" fill="#1a1a1a" stroke="#1a1a1a" stroke-width="0.14">1-day = -1.58%</text>
<text transform="translate(301.30,222.30) scale(0.895,1)" font-size="5.20" text-anchor="start" fill="#1a1a1a" stroke="#1a1a1a" stroke-width="0.14">7-days = -1.42%</text>
<text transform="translate(301.30,228.60) scale(0.895,1)" font-size="5.20" text-anchor="start" fill="#1a1a1a" stroke="#1a1a1a" stroke-width="0.14">28-days = -1.41%</text>
<rect x="144.00" y="164.20" width="262.90" height="143.20" fill="none" stroke="#000" stroke-width="1.6"/>
<text transform="translate(98.40,159.60) scale(1.000,1.07)" font-family="'Liberation Serif', serif" font-size="10.80" fill="#000" stroke="#000" stroke-width="0.08">(</text>
<text transform="translate(102.08,159.60) scale(1.064,1.07)" font-family="'Liberation Serif', serif" font-size="10.80" fill="#000" stroke="#000" stroke-width="0.08" font-weight="bold">a</text>
<text transform="translate(108.10,159.60) scale(1.000,1.07)" font-family="'Liberation Serif', serif" font-size="10.80" fill="#000" stroke="#000" stroke-width="0.08">)</text>
<text transform="translate(114.80,159.60) scale(0.993,1.07)" font-family="'Liberation Serif', serif" font-size="10.80" fill="#000" stroke="#000" stroke-width="0.08">w/c</text>
<text transform="translate(132.50,159.60) scale(1.016,1.07)" font-family="'Liberation Serif', serif" font-size="10.80" fill="#000" stroke="#000" stroke-width="0.08">ratio</text>
<rect x="154.90" y="155.60" width="5.10" height="2.3" fill="#6e6e6e"/>
<text transform="translate(162.14,159.60) scale(0.907,1.07)" font-family="'Liberation Serif', serif" font-size="10.80" fill="#000" stroke="#000" stroke-width="0.08">0.4</text>
<text transform="translate(376.40,159.90) scale(1.000,1.07)" font-family="'Liberation Serif', serif" font-size="10.80" fill="#000" stroke="#000" stroke-width="0.08">(</text>
<text transform="translate(380.80,159.90) scale(1.054,1.07)" font-family="'Liberation Serif', serif" font-size="10.80" fill="#000" stroke="#000" stroke-width="0.08" font-weight="bold">b</text>
<text transform="translate(387.20,159.90) scale(1.000,1.07)" font-family="'Liberation Serif', serif" font-size="10.80" fill="#000" stroke="#000" stroke-width="0.08">)</text>
<text transform="translate(393.90,159.90) scale(0.980,1.07)" font-family="'Liberation Serif', serif" font-size="10.80" fill="#000" stroke="#000" stroke-width="0.08">w/c</text>
<text transform="translate(411.70,159.90) scale(0.985,1.07)" font-family="'Liberation Serif', serif" font-size="10.80" fill="#000" stroke="#000" stroke-width="0.08">ratio</text>
<rect x="433.60" y="155.90" width="4.80" height="2.3" fill="#6e6e6e"/>
<text transform="translate(440.50,159.90) scale(0.992,1.07)" font-family="'Liberation Serif', serif" font-size="10.80" fill="#000" stroke="#000" stroke-width="0.08">0.5</text>
<text transform="translate(238.40,321.00) scale(1.000,1.07)" font-family="'Liberation Serif', serif" font-size="10.80" fill="#000" stroke="#000" stroke-width="0.08">(</text>
<text transform="translate(242.07,321.00) scale(1.073,1.07)" font-family="'Liberation Serif', serif" font-size="10.80" fill="#000" stroke="#000" stroke-width="0.08" font-weight="bold">c</text>
<text transform="translate(247.30,321.00) scale(1.000,1.07)" font-family="'Liberation Serif', serif" font-size="10.80" fill="#000" stroke="#000" stroke-width="0.08">)</text>
<text transform="translate(253.90,321.00) scale(0.961,1.07)" font-family="'Liberation Serif', serif" font-size="10.80" fill="#000" stroke="#000" stroke-width="0.08">w/c</text>
<text transform="translate(271.50,321.00) scale(1.000,1.07)" font-family="'Liberation Serif', serif" font-size="10.80" fill="#000" stroke="#000" stroke-width="0.08">ratio</text>
<rect x="293.80" y="317.00" width="4.70" height="2.3" fill="#6e6e6e"/>
<text transform="translate(300.70,321.00) scale(0.992,1.07)" font-family="'Liberation Serif', serif" font-size="10.80" fill="#000" stroke="#000" stroke-width="0.08">0.6</text>
</svg>
</body></html>
